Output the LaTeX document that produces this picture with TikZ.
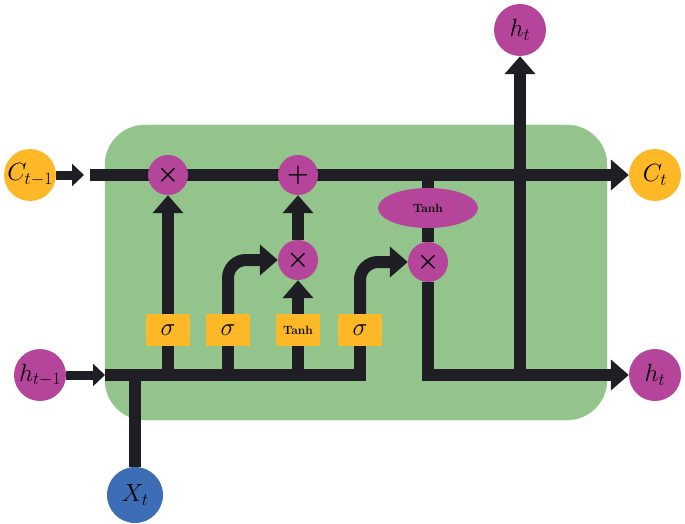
\documentclass[tikz,border=0pt]{standalone}
\usepackage{tikz}
\usepackage{amsmath}
\usetikzlibrary{arrows.meta,shapes.geometric}
\definecolor{gbox}{HTML}{93C48B}
\definecolor{org}{HTML}{FDB827}
\definecolor{mag}{HTML}{B5449B}
\definecolor{blu}{HTML}{3D6DB5}
\definecolor{ln}{HTML}{1E1E24}
\newcommand{\bigf}{\fontsize{24}{26}\selectfont}
\newcommand{\gatef}{\fontsize{30}{32}\selectfont}
\newcommand{\smf}{\fontsize{12}{14}\selectfont\bfseries}
\tikzset{
 w/.style={line width=12pt,draw=ln},
 a/.style={w,-{Triangle[length=18pt,width=30pt]}},
 sa/.style={w,line width=9pt,-{Triangle[length=12pt,width=22pt]}},
 circ/.style={circle,minimum size=#1,inner sep=0pt,font=\bigf},
 op/.style={circ=40pt,fill=mag,font=\gatef},
 gate/.style={rectangle,fill=org,minimum width=44pt,minimum height=32pt,inner sep=0pt,font=\smf},
}
\begin{document}
\begin{tikzpicture}[x=1pt,y=-1pt]
\useasboundingbox (0,0) rectangle (685,524);
\draw[gbox,fill=gbox,rounded corners=40pt] (105,125) rectangle (607,420);
% nodes
\node[circ=52pt,fill=org] (cp) at (30,175) {$C_{t-1}$};
\node[circ=52pt,fill=org] (ct) at (655,175) {$C_t$};
\node[circ=52pt,fill=mag] (hp) at (40,375) {$h_{t-1}$};
\node[circ=52pt,fill=mag] (ht) at (655,375) {$h_t$};
\node[circ=52pt,fill=mag] (htt) at (520,30) {$h_t$};
\node[circ=56pt,fill=blu] (xt) at (135,495) {$X_t$};
\coordinate (ce) at (84,175);
\coordinate (cs) at (90,175);
\coordinate (hs) at (105,375);
\coordinate (he) at (360,375);
\coordinate (xtop) at (135,381);
\coordinate (corner) at (428,375);
\coordinate (jn) at (520,375);
% gates
\node[gate] (s1) at (168,330) {};
\node[gate] (s2) at (228,330) {};
\node[gate] (th) at (298,330) {};
\node[gate] (s3) at (360,330) {};
\node[ellipse,fill=mag,minimum width=100pt,minimum height=40pt,font=\smf] (te) at (428,208) {Tanh};
\coordinate (ctap) at (428,175);
% lines
\draw[sa] (cp) -- (ce);
\draw[a] (cs) -- (ct);
\draw[w] (ctap) -- (te);
\node[op] (m1) at (168,175) {$\boldsymbol{\times}$};
\node[op] (p1) at (298,175) {$\boldsymbol{+}$};
\node[op] (m2) at (298,260) {$\boldsymbol{\times}$};
\node[op] (m3) at (428,262) {$\boldsymbol{\times}$};
\draw[w] (te) -- (m3);
\draw[w] (xt) -- (xtop);
\draw[sa] (hp) -- (hs);
\draw[w] (hs) -- (he) -- (s3);
\draw[w] (168,375) -- (s1);
\draw[w] (228,375) -- (s2);
\draw[w] (298,375) -- (th);
\draw[a] (s1) -- (m1);
\draw[a] (th) -- (m2);
\draw[a] (m2) -- (p1);
\draw[a,rounded corners=18pt] (s2) -- (228,260) -- (m2);
\draw[a,rounded corners=18pt] (s3) -- (360,262) -- (m3);
\draw[w] (m3) -- (corner) -- (jn);
\draw[a] (jn) -- (ht);
\draw[a] (jn) -- (htt);
\node[gate,font=\gatef] at (s1) {$\sigma$};
\node[gate,font=\gatef] at (s2) {$\sigma$};
\node[gate] at (th) {Tanh};
\node[gate,font=\gatef] at (s3) {$\sigma$};
\end{tikzpicture}
\end{document}
